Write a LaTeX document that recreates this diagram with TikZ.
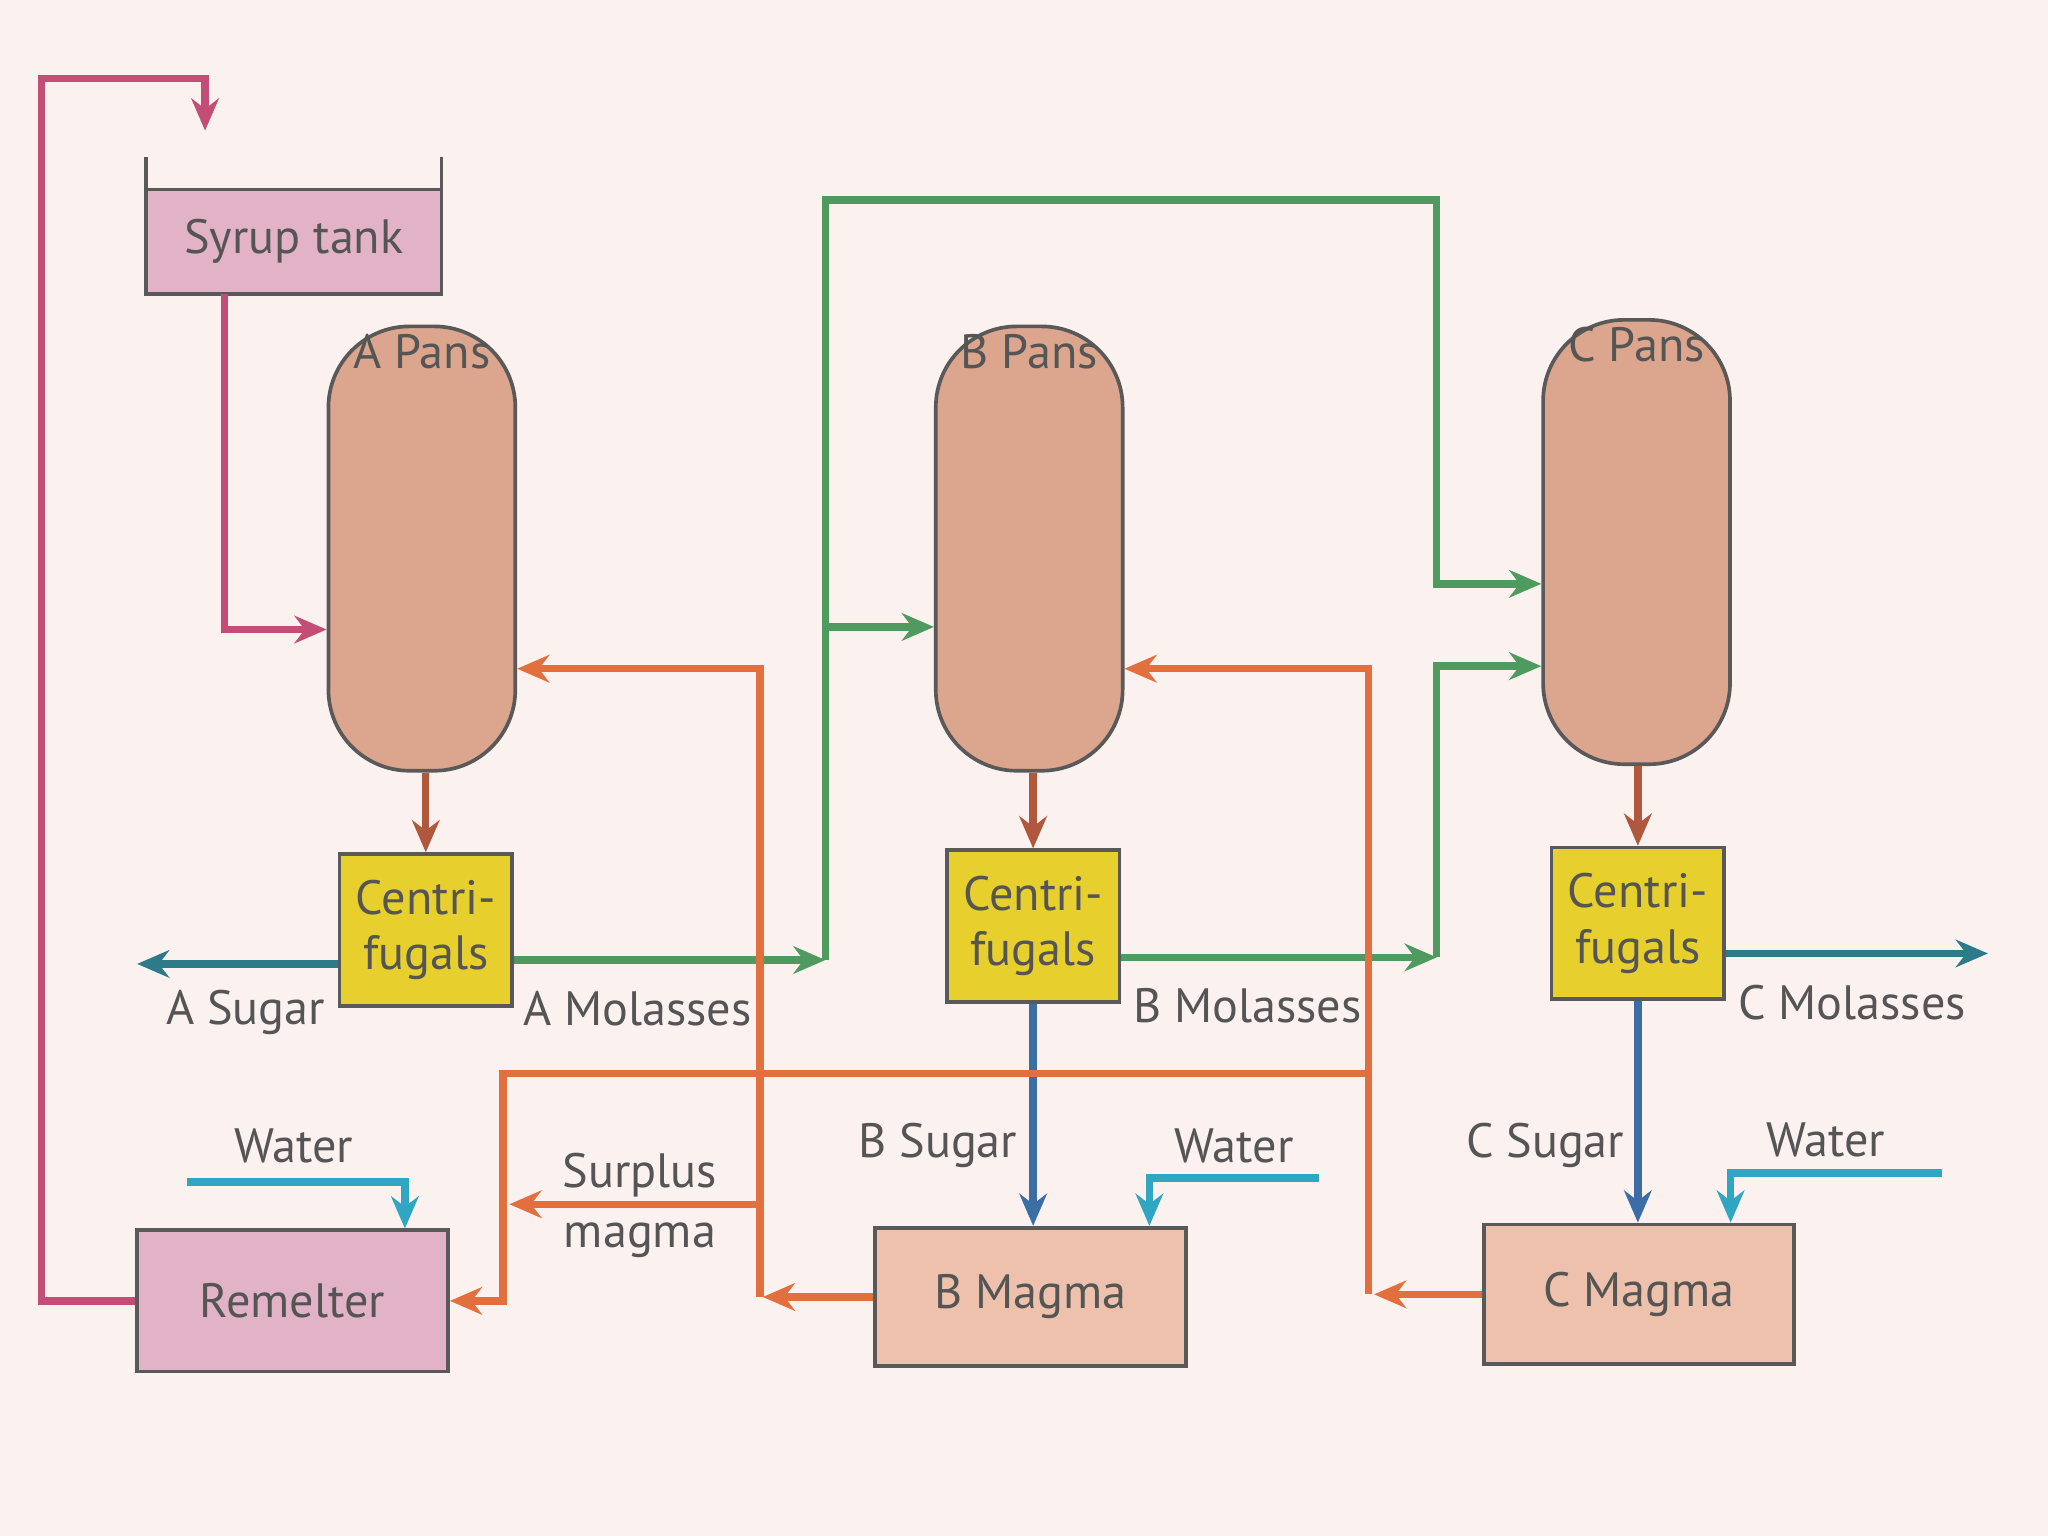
\documentclass[tikz,border=0pt]{standalone}
\usepackage{fontspec}
\setmainfont{PT Sans}
\usetikzlibrary{arrows.meta}
\definecolor{bg}{HTML}{FBF1EF}
\definecolor{pinkl}{HTML}{C24E78}
\definecolor{pinkf}{HTML}{E2B3C6}
\definecolor{panf}{HTML}{DCA68E}
\definecolor{magf}{HTML}{EDC1AB}
\definecolor{brn}{HTML}{B0583E}
\definecolor{yel}{HTML}{E7D02E}
\definecolor{grn}{HTML}{4F9A5E}
\definecolor{teal}{HTML}{2D7A88}
\definecolor{blu}{HTML}{3C6EA6}
\definecolor{orn}{HTML}{E2703E}
\definecolor{wat}{HTML}{2FA6C2}
\definecolor{txt}{HTML}{555555}
\begin{document}
\begin{tikzpicture}[x=0.01cm,y=-0.01cm,
  every node/.style={font=\fontsize{10.5}{12}\selectfont, text=txt},
  box/.style={draw=gray!70!black, line width=0.8pt, inner sep=0pt, align=center},
  vessel/.style={box, fill=panf, rounded corners=0.62cm, minimum width=1.43cm, minimum height=3.4cm},
  cent/.style={box, fill=yel, minimum width=1.32cm, minimum height=1.16cm},
  pipe/.style={line width=1.6pt},
  arr/.style={pipe, -{Stealth[length=7pt,width=6pt]}},
  lbl/.style={align=center}]
\fill[bg] (0,0) rectangle (1568,1176);
\useasboundingbox (0,0) rectangle (1568,1176);
% boxes
\node[box, fill=pinkf, minimum width=2.26cm, minimum height=0.8cm] (tank) at (225,185) {Syrup tank};
\draw[gray!70!black, line width=0.8pt] (112,120) -- (112,145) (338,120) -- (338,145);
\node[vessel] (ap) at (323,420) {A Pans\\[2.6cm]};
\node[vessel] (bp) at (788,420) {B Pans\\[2.6cm]};
\node[vessel] (cp) at (1253,415) {C Pans\\[2.6cm]};
\node[cent] (ac) at (326,712) {Centri-\\fugals};
\node[cent] (bc) at (791,709) {Centri-\\fugals};
\node[cent] (cc) at (1254,707) {Centri-\\fugals};
\node[box, fill=pinkf, minimum width=2.38cm, minimum height=1.08cm] (rem) at (224,996) {Remelter};
\node[box, fill=magf, minimum width=2.38cm, minimum height=1.06cm] (bm) at (789,993) {B Magma};
\node[box, fill=magf, minimum width=2.37cm, minimum height=1.07cm] (cm) at (1255,991) {C Magma};
% pink recycle
\coordinate (tin) at (157,100);
\draw[arr, pinkl] (rem.west) -- (32,996) -- (32,60) -- (157,60) -- (tin);
\draw[arr, pinkl] (172,225) -- (172,482) -- (ap.west |- {(0,482)});
% pans to centrifugals
\draw[arr, brn] (ap.south -| ac.north) -- (ac.north);
\draw[arr, brn] (bp.south -| bc.north) -- (bc.north);
\draw[arr, brn] (cp.south -| cc.north) -- (cc.north);
% sugars / molasses out
\coordinate (asug) at (105,738);
\draw[arr, teal] (ac.west |- {(0,738)}) -- (asug);
\node[lbl] (asl) at (188,775) {A Sugar};
\coordinate (cmo) at (1522,730);
\draw[arr, teal] (cc.east |- {(0,730)}) -- (cmo);
\node[lbl] (cml) at (1418,768) {C Molasses};
\draw[arr, blu] (bc.south) -- (bm.north -| bc.south);
\draw[arr, blu] (cc.south) -- (cm.north -| cc.south);
\node[lbl] (bsl) at (718,877) {B Sugar};
\node[lbl] (csl) at (1183,877) {C Sugar};
% green A molasses
\draw[arr, grn] (ac.east |- {(0,735)}) -- (632,735);
\draw[arr, grn] (632,735) -- (632,153) -- (1100,153) -- (1100,447) -- (cp.west |- {(0,447)});
\draw[arr, grn] (632,480) -- (bp.west |- {(0,480)});
\node[lbl] (aml) at (488,772) {A Molasses};
% green B molasses
\draw[arr, grn] (bc.east |- {(0,733)}) -- (1100,733);
\draw[arr, grn] (1100,733) -- (1100,510) -- (cp.west |- {(0,510)});
\node[lbl] (bml) at (955,770) {B Molasses};
% water
\draw[arr, wat] (143,905) -- (310,905) -- (rem.north -| {(310,0)});
\draw[arr, wat] (1010,902) -- (880,902) -- (bm.north -| {(880,0)});
\draw[arr, wat] (1487,898) -- (1325,898) -- (cm.north -| {(1325,0)});
\node[lbl] (w1) at (225,877) {Water};
\node[lbl] (w2) at (945,877) {Water};
\node[lbl] (w3) at (1398,873) {Water};
% orange magma
\draw[arr, orn] (bm.west) -- (584,993);
\draw[arr, orn] (582,993) -- (582,512) -- (ap.east |- {(0,512)});
\draw[arr, orn] (582,922) -- (390,922);
\draw[arr, orn] (cm.west) -- (1052,991);
\draw[arr, orn] (1048,991) -- (1048,512) -- (bp.east |- {(0,512)});
\draw[arr, orn] (1048,822) -- (385,822) -- (385,996) -- (rem.east);
\node[lbl, font=\fontsize{10.5}{13}\selectfont] (sml) at (490,923) {Surplus\\magma};
\end{tikzpicture}
\end{document}
